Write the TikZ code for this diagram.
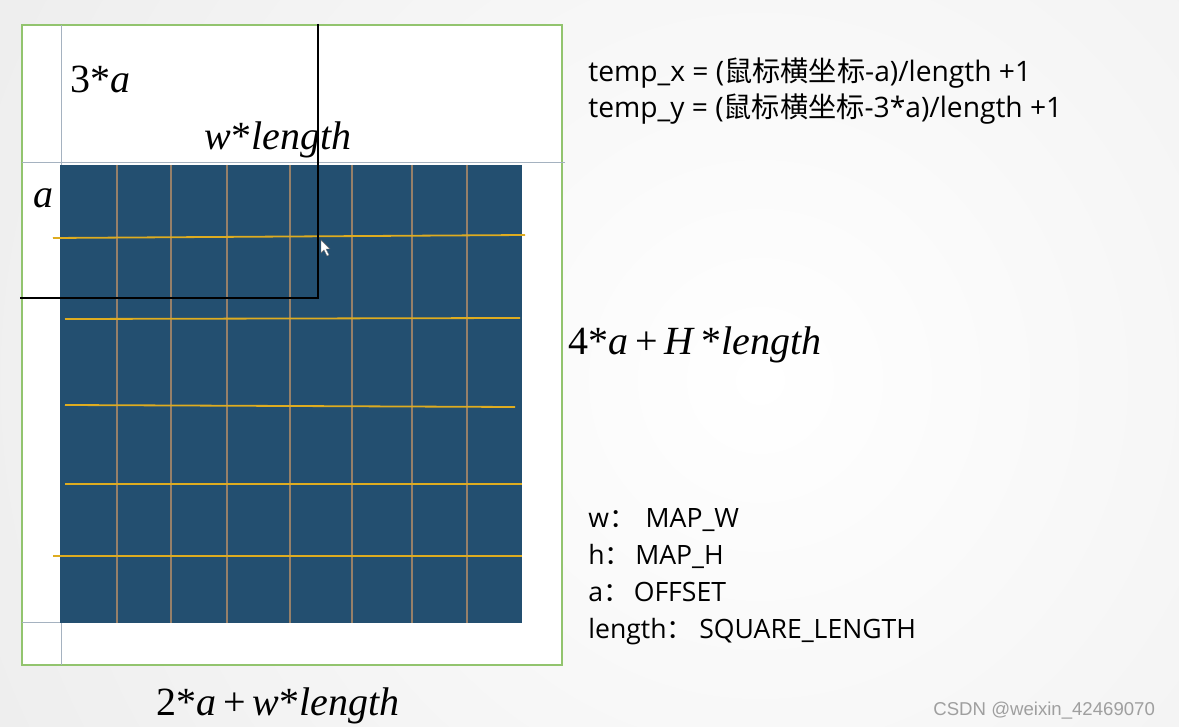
\documentclass[tikz,border=0pt]{standalone}
\usepackage{fontspec}
\setmainfont{Liberation Serif}
\newfontfamily\calib{Open Sans}
\newfontfamily\cjk{Noto Sans CJK SC}
\newfontfamily\wmfont{Liberation Sans}
\usetikzlibrary{calc}
\definecolor{mapblue}{RGB}{35,79,112}
\definecolor{framegreen}{RGB}{146,196,110}
\definecolor{gridtan}{RGB}{150,128,105}
\definecolor{gridyellow}{RGB}{222,172,32}
\definecolor{guidegray}{RGB}{165,178,192}

\begin{document}
\begin{tikzpicture}[x=0.5pt,y=-0.5pt,
  formula/.style={inner sep=0pt,anchor=base,font=\fontsize{20}{24}\selectfont},
  note/.style={inner sep=0pt,anchor=base west,font=\calib\fontsize{13.3}{16}\selectfont},
  wide note/.style={note,font=\calib\fontsize{14.1}{17}\selectfont}]
\useasboundingbox (0,0) rectangle (1179,727);
% background
\begin{scope}
\clip (0,0) rectangle (1179,727);
\shade[inner color=white,outer color=gray!24] (760,380) circle (1500);
\end{scope}
% frame and map
\draw[fill=white,draw=framegreen,line width=1pt] (22,25) rectangle (562,665);
\draw[guidegray,line width=0.5pt] (61,25) -- (61,665);
\draw[guidegray,line width=0.5pt] (22,163) -- (565,163);
\draw[guidegray,line width=0.5pt] (22,622) -- (60,622);
\fill[mapblue] (60,165) rectangle (522,623);
\foreach \x in {117,171,227,290,352,412,467}
  \draw[gridtan,line width=0.6pt] (\x,165) -- (\x,623);
\foreach \xa/\ya/\xb/\yb in {53/238/525/235,65/319/520/318,65/405/515/407,65/484/522/484,53/556/522/556}
  \draw[gridyellow,line width=0.9pt] (\xa,\ya) -- (\xb,\yb);
% mouse window
\draw[black,line width=1.2pt] (318,24) -- (318,298) -- (20,298);
\filldraw[fill=white,draw=black!60,line width=0.2pt] (321,240) -- (321,253) -- (324,250) -- (327,256) -- (329,255) -- (326,249) -- (330,249) -- cycle;
% labels
\node[formula,anchor=base west] (threea) at (70,93) {3*\textit{a}};
\node[formula] (wlen) at (278,150) {\textit{w}*\textit{length}};
\node[formula] (offa) at (43,208) {\textit{a}};
\node[formula,anchor=base west] (height) at (568,355) {4*\textit{a}\,+\,\textit{H}\,*\textit{length}};
\node[formula] (width) at (278,715) {2*\textit{a}\,+\,\textit{w}*\textit{length}};
% formulas
\node[wide note] (tempx) at (588,82) {temp\_x = ({\cjk 鼠标横坐标}-a)/length +1};
\node[wide note] (tempy) at (588,118) {temp\_y = ({\cjk 鼠标横坐标}-3*a)/length +1};
% legend
\node[note] (legw) at (588,527) {w{\cjk ：}\hspace{5pt}MAP\_W};
\node[note] (legh) at (588,564) {h{\cjk ：}\hspace{2pt}MAP\_H};
\node[note] (lega) at (588,601) {a{\cjk ：}\hspace{2pt}OFFSET};
\node[note] (legl) at (588,638) {length{\cjk ：}\hspace{3pt}SQUARE\_LENGTH};
\node[inner sep=0pt,anchor=base west,text=gray!75,font=\wmfont\fontsize{9.3}{11}\selectfont] (mark) at (933,715) {CSDN @weixin\_42469070};
\end{tikzpicture}
\end{document}
